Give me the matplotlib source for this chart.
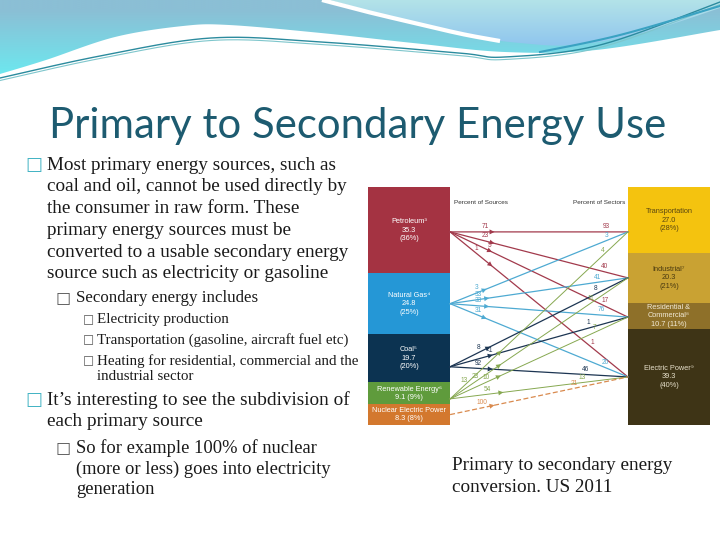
import numpy as np
import matplotlib
matplotlib.use("Agg")
import matplotlib.pyplot as plt
from matplotlib.patches import Polygon

# US 2011 primary energy by source (quadrillion Btu)
sources = ["Petroleum³", "Natural Gas⁴", "Coal⁵", "Renewable Energy⁶", "Nuclear Electric Power"]
source_values = [35.3, 24.8, 19.7, 9.1, 8.3]
source_shares = [36, 25, 20, 9, 8]

# consuming sectors
sectors = ["Transportation", "Industrial⁷", "Residential &\nCommercial⁸", "Electric Power⁹"]
sector_values = [27.0, 20.3, 10.7, 39.3]
sector_shares = [28, 21, 11, 40]

# flows: source index -> sector index, percent of source, percent of sector
flow_source = [0, 0, 0, 0, 1, 1, 1, 1, 2, 2, 2, 3, 3, 3, 3, 4]
flow_sector = [0, 1, 2, 3, 0, 1, 2, 3, 1, 2, 3, 0, 1, 2, 3, 3]
flow_pct_source = ["71", "23", "5", "1", "3", "33", "33", "31", "8", "<1", "92", "13", "23", "10", "54", "100"]
flow_pct_sector = ["93", "40", "17", "1", "3", "41", "76", "20", "8", "1", "46", "4", "11", "7", "13", "21"]

# slide text
title = "Primary to Secondary Energy Use"
bullets = [
    (1, ["Most primary energy sources, such as",
         "coal and oil, cannot be used directly by",
         "the consumer in raw form. These",
         "primary energy sources must be",
         "converted to a usable secondary energy",
         "source such as electricity or gasoline"]),
    (2, ["Secondary energy includes"]),
    (3, ["Electricity production"]),
    (3, ["Transportation (gasoline, aircraft fuel etc)"]),
    (3, ["Heating for residential, commercial and the", "industrial sector"]),
    (1, ["It\u2019s interesting to see the subdivision of", "each primary source"]),
    (2, ["So for example 100% of nuclear",
         "(more or less) goes into electricity",
         "generation"]),
]
caption = ["Primary to secondary energy", "conversion. US 2011"]

# styles
source_colors = ["#a43342", "#2597d6", "#0c3351", "#5f9b3c", "#d3782e"]
line_colors = ["#a23a4c", "#4eaad2", "#1c3552", "#86a850", "#d98a4e"]
sector_colors = ["#f4c30f", "#c9a233", "#8e7029", "#3e3416"]
sector_text = ["#5a4710", "#4a3a10", "#f2ead6", "#e6dfca"]
source_anchor = [0.52, 0.5, 0.68, 0.75, 0.5]
sector_anchor = [0.68, 0.5, 0.55, 0.5]
arrow_pos = [0.25, 0.22, 0.24, 0.3, 0.25]
src_label_t = [0.2, 0.2, 0.22, 0.15, 0.15, 0.16, 0.16, 0.16, 0.16, 0.22, 0.16, 0.08, 0.14, 0.2, 0.21, 0.18]
sec_label_t = [0.88, 0.87, 0.87, 0.80, 0.88, 0.83, 0.85, 0.87, 0.82, 0.78, 0.76, 0.86, 0.79, 0.81, 0.74, 0.70]
serif = "Liberation Serif"
sans = ["Liberation Sans", "DejaVu Sans"]


def smooth(pts, n=40):
    p = np.asarray(pts, float)
    p = np.vstack([p[0], p, p[-1]])
    out = []
    t = np.linspace(0, 1, n, endpoint=False)[:, None]
    for i in range(1, len(p) - 2):
        p0, p1, p2, p3 = p[i - 1], p[i], p[i + 1], p[i + 2]
        out.append(0.5 * (2 * p1 + (-p0 + p2) * t + (2 * p0 - 5 * p1 + 4 * p2 - p3) * t ** 2
                          + (-p0 + 3 * p1 - 3 * p2 + p3) * t ** 3))
    out.append(p[-2][None])
    return np.vstack(out)


def gradient(ax, patch, c_top, c_bot, y0, y1, extent):
    top = np.array(matplotlib.colors.to_rgb(c_top))
    bot = np.array(matplotlib.colors.to_rgb(c_bot))
    f = np.clip((np.linspace(extent[3], extent[2], 200) - y0) / (y1 - y0), 0, 1)[:, None]
    img = (top * (1 - f) + bot * f)[:, None, :].repeat(2, axis=1)
    im = ax.imshow(img, extent=extent, aspect="auto", zorder=1)
    im.set_clip_path(patch)


fig = plt.figure(figsize=(7.2, 5.4), dpi=100)
bg = fig.add_axes([0, 0, 1, 1])
bg.set_xlim(0, 720)
bg.set_ylim(540, 0)
bg.axis("off")

# header wave
lower = smooth([(0, 74), (46, 60), (115, 37), (183, 26), (229, 25), (321, 33),
                (413, 43), (505, 52), (596, 50), (720, 30)])
blue = Polygon(np.vstack([lower, [(720, 0), (0, 0)]]), closed=True, fc="none", ec="none")
bg.add_patch(blue)
gradient(bg, blue, "#8bbfd5", "#6ee6ee", 10, 72, (0, 720, 80, 0))

upper = smooth([(330, 0), (372, 12), (415, 23), (470, 36), (520, 43), (573, 45), (642, 33), (720, 8)])
cyan = Polygon(np.vstack([upper, [(720, 0)]]), closed=True, fc="none", ec="none")
bg.add_patch(cyan)
gradient(bg, cyan, "#b3e3e8", "#90c6ee", 0, 45, (330, 720, 48, 0))
strip = smooth([(322, 0), (364, 11), (410, 22), (462, 34), (500, 41)])
bg.plot(strip[:, 0], strip[:, 1], color="white", lw=3.0, zorder=2, solid_capstyle="butt")

wave = smooth([(0, 78), (100, 56), (211, 38), (321, 42), (459, 53), (505, 57), (600, 45), (720, 2)])
bg.plot(wave[:, 0], wave[:, 1], color="#2c8b9e", lw=1.0, zorder=3)
bg.plot(wave[:, 0], wave[:, 1] + 2.5, color="#7ec6cc", lw=0.8, zorder=3)
wave2 = smooth([(540, 52), (620, 35), (720, 6)])
bg.plot(wave2[:, 0], wave2[:, 1], color="#3aa2c2", lw=1.5, zorder=3)

# title
bg.text(358, 126, title, ha="center", va="center", fontsize=30.2, family="Lato", color="#1d5b70")

# bullets
starts = [165, 298, 320, 340, 361, 400, 448]
sizes = [13.8, 12.2, 10.8, 10.8, 10.8, 13.9, 13.3]
bullet_x = {1: 34, 2: 63, 3: 88}
text_x = {1: 47, 2: 76, 3: 97}
lead = {1: 21.8, 2: 21, 3: 16}
bsize = {1: 13, 2: 11.5, 3: 8.5}
bcol = {1: "#45b4c4", 2: "#555555", 3: "#555555"}
for (lvl, lines), y, fs in zip(bullets, starts, sizes):
    bg.text(bullet_x[lvl], y, "\u25a1", ha="center", va="center", family="DejaVu Sans",
            fontsize=bsize[lvl], color=bcol[lvl])
    for i, line in enumerate(lines):
        bg.text(text_x[lvl], y + i * lead[lvl], line, ha="left", va="center",
                family=serif, fontsize=fs, color="#1a1a1a")
for i, line in enumerate(caption):
    bg.text(452, 465 + i * 22, line, ha="left", va="center", family=serif,
            fontsize=13.8, color="#1a1a1a")

# energy flow diagram
ax = fig.add_axes([368 / 720, 1 - 425 / 540, 342 / 720, 238 / 540])
total = max(sum(source_values), sum(sector_values))
ax.set_xlim(0, 1)
ax.set_ylim(total, 0)
ax.axis("off")

src_bottom = np.cumsum([0] + source_values[:-1])
sec_bottom = np.cumsum([0] + sector_values[:-1])
ax.bar([0.12] * len(sources), source_values, width=0.24, bottom=src_bottom,
       color=source_colors, align="center")
ax.bar([0.88] * len(sectors), sector_values, width=0.24, bottom=sec_bottom,
       color=sector_colors, align="center")

for name, v, s, b in zip(sources, source_values, source_shares, src_bottom):
    lab = f"{name}\n{v}\n({s}%)" if v > 12 else f"{name}\n{v} ({s}%)"
    ax.text(0.12, b + v / 2, lab, ha="center", va="center", fontsize=5.3,
            color="white", family=sans, linespacing=1.3)
for name, v, s, b, tc in zip(sectors, sector_values, sector_shares, sec_bottom, sector_text):
    lab = f"{name}\n{v}\n({s}%)" if v > 12 else f"{name}\n{v} ({s}%)"
    ax.text(0.88, b + v / 2, lab, ha="center", va="center", fontsize=5.3,
            color=tc, family=sans, linespacing=1.3)

ax.text(0.33, 6.2, "Percent of Sources", ha="center", va="center", fontsize=4.6,
        color="#333333", family=sans)
ax.text(0.675, 6.2, "Percent of Sectors", ha="center", va="center", fontsize=4.6,
        color="#333333", family=sans)

x0, x1 = 0.24, 0.76
for k, (si, ti, ps, pt) in enumerate(zip(flow_source, flow_sector, flow_pct_source, flow_pct_sector)):
    y0 = src_bottom[si] + source_values[si] * source_anchor[si]
    y1 = sec_bottom[ti] + sector_values[ti] * sector_anchor[ti]
    col = line_colors[si]
    ls = (0, (4, 2)) if si == 4 else "-"
    lw = 0.7 if si == 3 else 0.9
    ax.plot([x0, x1], [y0, y1], color=col, lw=lw, ls=ls)
    ta = arrow_pos[si]
    ax.annotate("", xy=(x0 + ta * (x1 - x0), y0 + ta * (y1 - y0)),
                xytext=(x0 + (ta - 0.03) * (x1 - x0), y0 + (ta - 0.03) * (y1 - y0)),
                arrowprops=dict(arrowstyle="-|>", color=col, lw=0, mutation_scale=9))
    for t, lab in ((src_label_t[k], ps), (sec_label_t[k], pt)):
        ax.annotate(lab, (x0 + t * (x1 - x0), y0 + t * (y1 - y0)), xytext=(0, 1.2),
                    textcoords="offset points", ha="center", va="bottom",
                    fontsize=4.7, color=col, family=sans)

fig.savefig("out.png", dpi=100)
